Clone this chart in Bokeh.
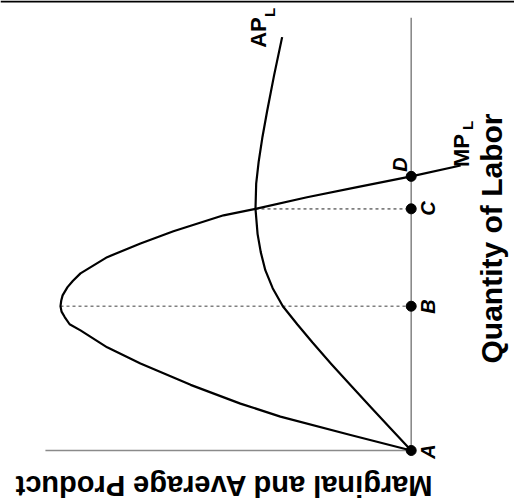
import math
from bokeh.plotting import figure
from bokeh.models import Range1d
from bokeh.core.properties import value
from bokeh.embed import file_html
from bokeh.resources import INLINE

# ---- data (quantity of labor, product) ----
labor_mp = [0, 0.43, 0.94, 1.30, 1.82, 2.41, 2.86, 3.33, 3.50, 3.70, 3.85, 4.00,
            4.15, 4.30, 4.53, 4.70, 4.91, 5.36, 5.74, 6.08, 6.52, 6.70, 7.02,
            7.30, 7.60, 7.90]
mp = [0, 1.73, 3.73, 4.87, 6.29, 7.72, 8.67, 9.43, 9.74, 9.88, 9.97, 10.0,
      9.98, 9.94, 9.80, 9.65, 9.43, 8.67, 7.72, 6.78, 5.35, 4.44, 2.97,
      1.54, 0, -1.41]

labor_ap = [0, 0.6, 1.2, 1.8, 2.4, 3.0, 3.5, 4.0, 4.5, 5.0, 5.5, 6.0, 6.7,
            7.4, 8.0, 8.7, 9.4, 10.4, 11.46]
ap = [0, 0.58, 1.15, 1.72, 2.28, 2.82, 3.25, 3.66, 3.95, 4.16, 4.29, 4.38, 4.44,
      4.42, 4.35, 4.24, 4.11, 3.91, 3.68]

point_names = ["A", "B", "C", "D"]
point_labor = [0, 4.0, 6.7, 7.6]
point_product = [0, 0, 0, 0]

guide_labor = [4.0, 6.7]        # B (max MP) and C (max AP)
guide_product = [10.0, 4.44]

labor_axis_max = 12.0
product_axis_max = 10.43

x_title = "Quantity of Labor"
y_title = "Marginal and Average Product"

# ---- layout (pixels -> data) ----
W, H = 514, 504
QX0, QS = 410.7, 35.07   # product origin (px) and px per unit
LY0, LS = 450.0, 36.07   # labor origin (px) and px per unit


def qx(px):
    return (QX0 - px) / QS


def ly(py):
    return (LY0 - py) / LS


p = figure(width=W, height=H,
           x_range=Range1d(qx(0), qx(W)), y_range=Range1d(ly(H), ly(0)),
           output_backend="svg", toolbar_location=None, min_border=0,
           x_axis_location=None, y_axis_location=None)
p.xgrid.grid_line_color = None
p.ygrid.grid_line_color = None
p.outline_line_color = None
p.background_fill_color = "white"
p.border_fill_color = "white"

# top rule
p.segment(x0=[qx(0)], y0=[ly(1)], x1=[qx(W)], y1=[ly(1)],
          line_color="black", line_width=2)

# axes
p.segment(x0=[0, 0], y0=[0, 0], x1=[0, product_axis_max], y1=[labor_axis_max, 0],
          line_color="#8a8a8a", line_width=1.6)

# dotted guides
p.segment(x0=guide_product, y0=guide_labor, x1=[0, 0], y1=guide_labor,
          line_color="#808080", line_width=1.6, line_dash="3 3")

# curves
p.line(mp, labor_mp, line_color="black", line_width=2.2, line_join="round")
p.line(ap, labor_ap, line_color="black", line_width=2.2, line_join="round")

# points
p.scatter(point_product, point_labor, size=10, color="black")

# point labels
p.text(x=[qx(427), qx(427), qx(427), qx(399)],
       y=[ly(451), ly(306), ly(208), ly(164)],
       text=point_names, angle=math.pi / 2,
       text_font=value("Liberation Sans"), text_font_style="bold italic",
       text_font_size="20px", text_align="center", text_baseline="middle",
       text_color="black")

# curve labels
p.text(x=[qx(258), qx(461)], y=[ly(32), ly(150)], text=["AP", "MP"],
       angle=math.pi / 2, text_font=value("Liberation Sans"), text_font_style="bold",
       text_font_size="22px", text_align="center", text_baseline="middle",
       text_color="black")
p.text(x=[qx(269), qx(467)], y=[ly(12), ly(125)], text=["L", "L"],
       angle=math.pi / 2, text_font=value("Liberation Sans"), text_font_style="bold",
       text_font_size="15px", text_align="center", text_baseline="middle",
       text_color="black")

# axis titles
p.text(x=[qx(490.5)], y=[ly(238)], text=[x_title], angle=math.pi / 2,
       text_font=value("Liberation Sans"), text_font_style="bold",
       text_font_size="30px", text_align="center", text_baseline="middle",
       text_color="black")
p.text(x=[qx(223)], y=[ly(485)], text=[y_title], angle=math.pi,
       text_font=value("Liberation Sans"), text_font_style="bold",
       text_font_size="29px", text_align="center", text_baseline="middle",
       text_color="black")

open("out.html", "w").write(file_html(p, INLINE))
